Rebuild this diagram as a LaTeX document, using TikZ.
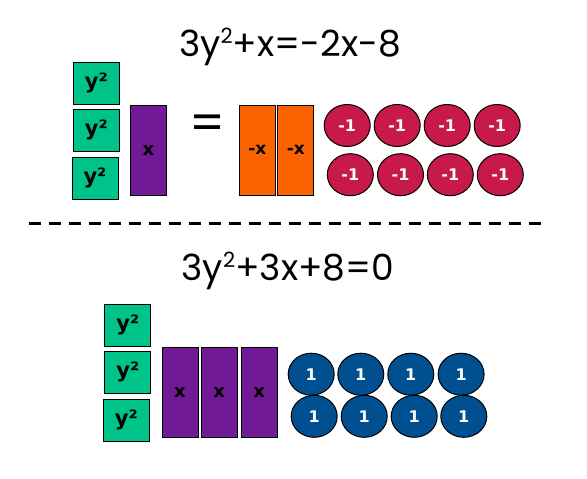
\documentclass[tikz,border=0pt]{standalone}
\usepackage{fontspec}
\usetikzlibrary{shapes.geometric}
\setmainfont{Poppins}
\newfontfamily\tilefont{DejaVu Sans}
\definecolor{tgreen}{RGB}{0,195,137}
\definecolor{tpurple}{RGB}{112,26,150}
\definecolor{torange}{RGB}{250,100,0}
\definecolor{tred}{RGB}{200,25,75}
\definecolor{tblue}{RGB}{0,80,145}
\begin{document}
\begin{tikzpicture}[x=1pt,y=-1pt,
  tile/.style={draw=black,line width=1pt,inner sep=0pt},
  ysq/.style={tile,fill=tgreen,minimum width=46pt,minimum height=42pt,font=\tilefont\bfseries\fontsize{21}{21}\selectfont},
  xbar/.style={tile,fill=tpurple,minimum width=36pt,minimum height=90pt,font=\tilefont\bfseries\fontsize{18}{18}\selectfont},
  nxbar/.style={tile,fill=torange,minimum width=36pt,minimum height=90pt,font=\tilefont\bfseries\fontsize{17}{17}\selectfont},
  disc/.style={ellipse,draw=black,line width=1pt,text=white,minimum width=46pt,minimum height=42pt,inner sep=0pt,font=\tilefont\bfseries\fontsize{16}{16}\selectfont},
  negone/.style={disc,fill=tred},
  posone/.style={disc,fill=tblue},
  eqn/.style={font=\fontsize{36}{36}\selectfont,inner sep=0pt}]
\useasboundingbox[fill=white] (0,0) rectangle (587,479);
% titles
\node[eqn] (t1) at (290,47) {3y\raisebox{0.36em}{\fontsize{21}{21}\selectfont 2}+x=-2x-8};
\node[eqn] (t2) at (288,271) {3y\raisebox{0.36em}{\fontsize{21}{21}\selectfont 2}+3x+8=0};
% top left
\node[ysq] (a1) at (96.3,83) {y²};
\node[ysq] (a2) at (96.3,130.2) {y²};
\node[ysq] (a3) at (95,178.3) {y²};
\node[xbar] (ax) at (148.5,150.3) {x};
\node[font=\fontsize{50}{50}\selectfont,inner sep=0pt] (eq) at (208,128) {=};
% top right
\node[nxbar] (o1) at (257.3,150.2) {-x};
\node[nxbar] (o2) at (295.8,150.2) {-x};
\node[negone] (r1) at (347.2,125.5) {-1};
\node[negone] (r2) at (397.2,125.5) {-1};
\node[negone] (r3) at (447.2,125.5) {-1};
\node[negone] (r4) at (497.2,125.5) {-1};
\node[negone] (r5) at (350.3,174.7) {-1};
\node[negone] (r6) at (400.5,174.7) {-1};
\node[negone] (r7) at (450.3,174.7) {-1};
\node[negone] (r8) at (500.3,174.7) {-1};
% dashed separator
\coordinate (dl) at (29,223.5);
\coordinate (dr) at (545,223.5);
\draw[line width=3pt,dash pattern=on 12pt off 8pt] (dl) -- (dr);
% bottom
\node[ysq] (b1) at (127.8,325.3) {y²};
\node[ysq] (b2) at (127.8,372.3) {y²};
\node[ysq] (b3) at (126.3,420.2) {y²};
\node[xbar] (bx1) at (180,392.3) {x};
\node[xbar] (bx2) at (219.3,392.3) {x};
\node[xbar] (bx3) at (259.3,392.3) {x};
\node[posone] (p1) at (311.2,374.2) {1};
\node[posone] (p2) at (360.8,374.2) {1};
\node[posone] (p3) at (410.8,374.2) {1};
\node[posone] (p4) at (461.1,374.2) {1};
\node[posone] (p5) at (314.2,416.3) {1};
\node[posone] (p6) at (364.2,416.3) {1};
\node[posone] (p7) at (414.2,416.3) {1};
\node[posone] (p8) at (463.8,416.3) {1};
\end{tikzpicture}
\end{document}
